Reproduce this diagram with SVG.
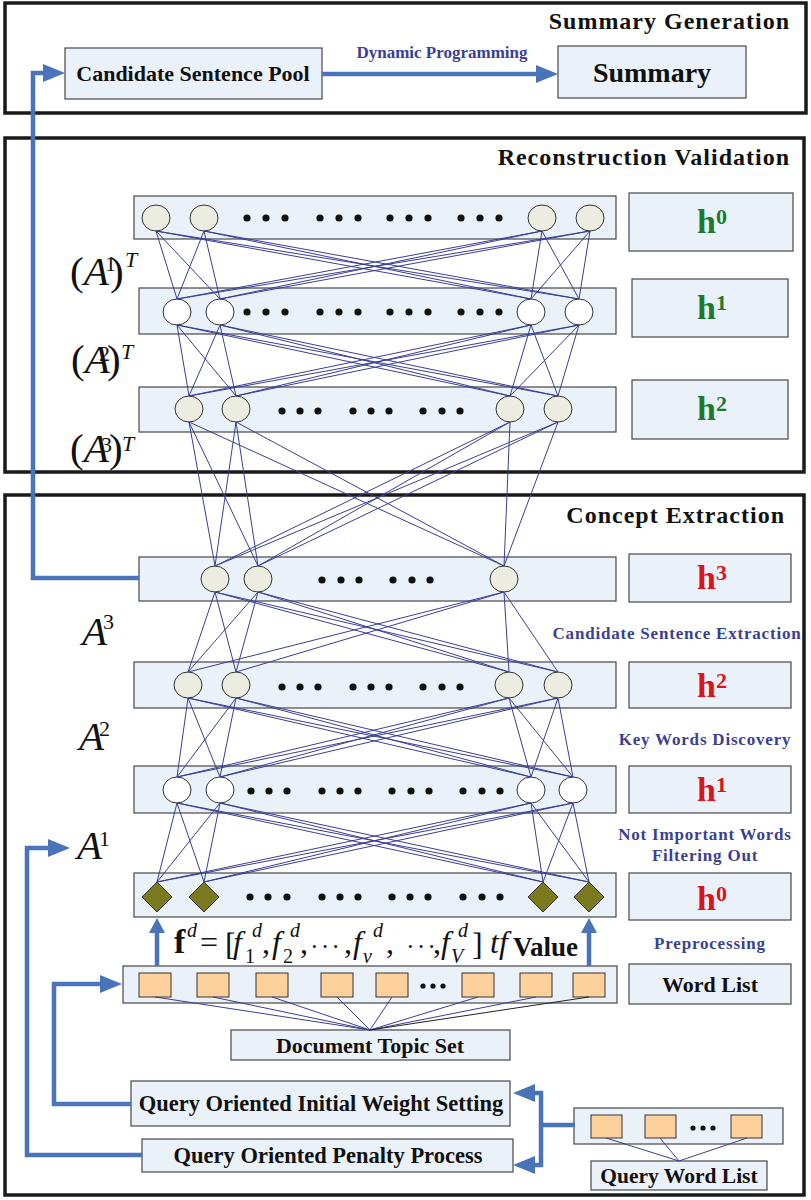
<svg xmlns="http://www.w3.org/2000/svg" width="811" height="1200" viewBox="0 0 811 1200">
<defs>
<style>
.sec{fill:none;stroke:#1a1a1a;stroke-width:3.5}
.lay{fill:#ebf1f9;stroke:#474747;stroke-width:1.2}
.nd{fill:#ecede0;stroke:#333;stroke-width:1}
.nw{fill:#fff;stroke:#333;stroke-width:1}
.dm{fill:#7a7a1e;stroke:#333;stroke-width:1}
.sq{fill:#fdd09c;stroke:#333;stroke-width:1}
.dot{fill:#111}
.w{stroke:#3a3e94;stroke-width:1;fill:none}
.thick{stroke:#4a74ba;stroke-width:4.5;fill:none}
text{font-family:"Liberation Serif","Times New Roman",serif;fill:#111}
.title{font-size:24px;font-weight:bold;letter-spacing:1px;text-anchor:end}
.lbl{font-weight:bold;text-anchor:middle}
.blue{fill:#3a3f94;font-size:17px;font-weight:bold;letter-spacing:0.8px;text-anchor:middle}
.hl{font-size:34px;font-weight:bold;text-anchor:middle}
.hg{fill:#1d7a2c}
.hr{fill:#d9141b}
.it{font-style:italic}
.bg{font-size:41px}
.sp{font-size:22px}
.fm{font-size:32px}
.fs{font-size:20px}
.el{font-size:26px;letter-spacing:2px}
</style>
<marker id="ah" markerUnits="userSpaceOnUse" markerWidth="22" markerHeight="18" refX="8" refY="9" orient="auto-start-reverse"><path d="M0,0 L22,9 L0,18 z" fill="#4a74ba"/></marker>
<marker id="ahs" markerUnits="userSpaceOnUse" markerWidth="16" markerHeight="16" refX="4" refY="8" orient="auto"><path d="M0,0 L15,8 L0,16 z" fill="#4a74ba"/></marker>
</defs>
<rect width="811" height="1200" fill="#fff"/>

<!-- sections -->
<g id="sec-summary">
<rect class="sec" x="5" y="3" width="801" height="110"/>
<text class="title" x="790" y="29">Summary Generation</text>
</g>
<g id="sec-recon">
<rect class="sec" x="5" y="138" width="799" height="334"/>
<text class="title" x="790" y="165">Reconstruction Validation</text>
</g>
<g id="sec-concept">
<rect class="sec" x="5" y="495" width="799" height="700"/>
<text class="title" x="785" y="523">Concept Extraction</text>
</g>

<!-- summary nodes -->
<g id="candidate-pool">
<rect class="lay" x="65" y="48" width="257" height="51"/>
<text class="lbl" x="193" y="81" font-size="22">Candidate Sentence Pool</text>
</g>
<g id="summary">
<rect class="lay" x="558" y="46" width="188" height="52"/>
<text class="lbl" x="652" y="82" font-size="28">Summary</text>
</g>

<!-- recon layers -->
<g id="r-h0">
<rect class="lay" x="134" y="196" width="482" height="43"/>
<ellipse class="nd" cx="156" cy="218" rx="14" ry="13"/><ellipse class="nd" cx="204" cy="218" rx="14" ry="13"/>
<ellipse class="nd" cx="542" cy="218" rx="14" ry="13"/><ellipse class="nd" cx="590" cy="218" rx="14" ry="13"/>
<g class="dot"><circle cx="247" cy="218" r="3.6"/><circle cx="266" cy="218" r="3.6"/><circle cx="285" cy="218" r="3.6"/><circle cx="320" cy="218" r="3.6"/><circle cx="339" cy="218" r="3.6"/><circle cx="358" cy="218" r="3.6"/><circle cx="390" cy="218" r="3.6"/><circle cx="409" cy="218" r="3.6"/><circle cx="428" cy="218" r="3.6"/><circle cx="461" cy="218" r="3.6"/><circle cx="480" cy="218" r="3.6"/><circle cx="499" cy="218" r="3.6"/></g>
</g>
<g id="r-h1">
<rect class="lay" x="139" y="288" width="477" height="46"/>
<ellipse class="nw" cx="177" cy="312" rx="14" ry="13"/><ellipse class="nw" cx="220" cy="312" rx="14" ry="13"/>
<ellipse class="nw" cx="531" cy="312" rx="14" ry="13"/><ellipse class="nw" cx="579" cy="312" rx="14" ry="13"/>
<g class="dot"><circle cx="247" cy="312" r="3.6"/><circle cx="266" cy="312" r="3.6"/><circle cx="285" cy="312" r="3.6"/><circle cx="320" cy="312" r="3.6"/><circle cx="339" cy="312" r="3.6"/><circle cx="358" cy="312" r="3.6"/><circle cx="390" cy="312" r="3.6"/><circle cx="409" cy="312" r="3.6"/><circle cx="428" cy="312" r="3.6"/><circle cx="461" cy="312" r="3.6"/><circle cx="480" cy="312" r="3.6"/><circle cx="499" cy="312" r="3.6"/></g>
</g>
<g id="r-h2">
<rect class="lay" x="139" y="387" width="477" height="45"/>
<ellipse class="nd" cx="189" cy="409" rx="14" ry="13"/><ellipse class="nd" cx="236" cy="409" rx="14" ry="13"/>
<ellipse class="nd" cx="510" cy="409" rx="14" ry="13"/><ellipse class="nd" cx="558" cy="409" rx="14" ry="13"/>
<g class="dot"><circle cx="282" cy="411" r="3.6"/><circle cx="300" cy="411" r="3.6"/><circle cx="318" cy="411" r="3.6"/><circle cx="353" cy="411" r="3.6"/><circle cx="371" cy="411" r="3.6"/><circle cx="389" cy="411" r="3.6"/><circle cx="423" cy="411" r="3.6"/><circle cx="442" cy="411" r="3.6"/><circle cx="460" cy="411" r="3.6"/></g>
</g>

<!-- recon labels -->
<g id="r-lab-h0"><rect class="lay" x="629" y="193" width="164" height="58"/><text class="hl hg" x="712" y="233">h<tspan font-size="22" dy="-9">0</tspan></text></g>
<g id="r-lab-h1"><rect class="lay" x="632" y="279" width="156" height="58"/><text class="hl hg" x="712" y="319">h<tspan font-size="22" dy="-9">1</tspan></text></g>
<g id="r-lab-h2"><rect class="lay" x="632" y="380" width="156" height="59"/><text class="hl hg" x="712" y="420">h<tspan font-size="22" dy="-9">2</tspan></text></g>

<g id="r-A1"><text class="bg" x="70" y="285">(<tspan class="it">A</tspan></text><text class="sp" x="105" y="271">1</text><text class="bg" x="110" y="285">)</text><text class="sp it" x="125" y="267">T</text></g>
<g id="r-A2"><text class="bg" x="71" y="373">(<tspan class="it">A</tspan></text><text class="sp" x="99" y="361">2</text><text class="bg" x="107" y="373">)</text><text class="sp it" x="121" y="359">T</text></g>
<g id="r-A3"><text class="bg" x="70" y="462">(<tspan class="it">A</tspan></text><text class="sp" x="101" y="452">3</text><text class="bg" x="109" y="462">)</text><text class="sp it" x="122" y="451">T</text></g>

<!-- concept layers -->
<g id="c-h3">
<rect class="lay" x="139" y="557" width="477" height="44"/>
<ellipse class="nd" cx="215" cy="579" rx="14" ry="13"/><ellipse class="nd" cx="258" cy="579" rx="14" ry="13"/><ellipse class="nd" cx="504" cy="579" rx="14" ry="13"/>
<g class="dot"><circle cx="322" cy="580" r="3.6"/><circle cx="341" cy="580" r="3.6"/><circle cx="359" cy="580" r="3.6"/><circle cx="393" cy="580" r="3.6"/><circle cx="412" cy="580" r="3.6"/><circle cx="430" cy="580" r="3.6"/></g>
</g>
<g id="c-h2">
<rect class="lay" x="134" y="662" width="482" height="46"/>
<ellipse class="nd" cx="188" cy="685" rx="14" ry="13"/><ellipse class="nd" cx="236" cy="685" rx="14" ry="13"/>
<ellipse class="nd" cx="509" cy="685" rx="14" ry="13"/><ellipse class="nd" cx="558" cy="685" rx="14" ry="13"/>
<g class="dot"><circle cx="282" cy="687" r="3.6"/><circle cx="300" cy="687" r="3.6"/><circle cx="318" cy="687" r="3.6"/><circle cx="353" cy="687" r="3.6"/><circle cx="371" cy="687" r="3.6"/><circle cx="389" cy="687" r="3.6"/><circle cx="423" cy="687" r="3.6"/><circle cx="442" cy="687" r="3.6"/><circle cx="460" cy="687" r="3.6"/></g>
</g>
<g id="c-h1">
<rect class="lay" x="134" y="766" width="482" height="47"/>
<ellipse class="nw" cx="177" cy="790" rx="14" ry="13"/><ellipse class="nw" cx="220" cy="790" rx="14" ry="13"/>
<ellipse class="nw" cx="531" cy="790" rx="14" ry="13"/><ellipse class="nw" cx="573" cy="790" rx="14" ry="13"/>
<g class="dot"><circle cx="251" cy="791" r="3.6"/><circle cx="269" cy="791" r="3.6"/><circle cx="287" cy="791" r="3.6"/><circle cx="322" cy="791" r="3.6"/><circle cx="340" cy="791" r="3.6"/><circle cx="358" cy="791" r="3.6"/><circle cx="392" cy="791" r="3.6"/><circle cx="411" cy="791" r="3.6"/><circle cx="429" cy="791" r="3.6"/><circle cx="463" cy="791" r="3.6"/><circle cx="482" cy="791" r="3.6"/><circle cx="500" cy="791" r="3.6"/></g>
</g>
<g id="c-h0">
<rect class="lay" x="134" y="873" width="482" height="44"/>
<path class="dm" d="M157 882 L172 897 L157 912 L142 897 Z"/><path class="dm" d="M204 882 L219 897 L204 912 L189 897 Z"/>
<path class="dm" d="M543 882 L558 897 L543 912 L528 897 Z"/><path class="dm" d="M589 882 L604 897 L589 912 L574 897 Z"/>
<g class="dot"><circle cx="250" cy="897" r="3.6"/><circle cx="268" cy="897" r="3.6"/><circle cx="287" cy="897" r="3.6"/><circle cx="322" cy="897" r="3.6"/><circle cx="340" cy="897" r="3.6"/><circle cx="358" cy="897" r="3.6"/><circle cx="392" cy="897" r="3.6"/><circle cx="410" cy="897" r="3.6"/><circle cx="428" cy="897" r="3.6"/><circle cx="463" cy="897" r="3.6"/><circle cx="482" cy="897" r="3.6"/><circle cx="500" cy="897" r="3.6"/></g>
</g>
<g id="word-list-row">
<rect class="lay" x="123" y="966" width="494" height="37"/>
<rect class="sq" x="139" y="973" width="32" height="24"/><rect class="sq" x="197" y="973" width="32" height="24"/><rect class="sq" x="256" y="973" width="32" height="24"/><rect class="sq" x="321" y="973" width="32" height="24"/><rect class="sq" x="376" y="973" width="32" height="24"/><rect class="sq" x="462" y="973" width="32" height="24"/><rect class="sq" x="520" y="973" width="32" height="24"/><rect class="sq" x="573" y="973" width="32" height="24"/>
<g class="dot"><circle cx="423" cy="986" r="2.6"/><circle cx="433" cy="986" r="2.6"/><circle cx="443" cy="986" r="2.6"/></g>
</g>

<!-- concept labels -->
<g id="c-lab-h3"><rect class="lay" x="629" y="554" width="162" height="48"/><text class="hl hr" x="712" y="589">h<tspan font-size="22" dy="-9">3</tspan></text></g>
<g id="c-lab-h2"><rect class="lay" x="629" y="662" width="162" height="46"/><text class="hl hr" x="712" y="697">h<tspan font-size="22" dy="-9">2</tspan></text></g>
<g id="c-lab-h1"><rect class="lay" x="629" y="766" width="162" height="47"/><text class="hl hr" x="712" y="801">h<tspan font-size="22" dy="-9">1</tspan></text></g>
<g id="c-lab-h0"><rect class="lay" x="629" y="873" width="162" height="47"/><text class="hl hr" x="712" y="910">h<tspan font-size="22" dy="-9">0</tspan></text></g>
<g id="c-lab-wordlist"><rect class="lay" x="629" y="964" width="162" height="40"/><text class="lbl" x="710" y="992" font-size="22">Word List</text></g>

<text class="blue" x="677" y="639">Candidate Sentence Extraction</text>
<text class="blue" x="705" y="745">Key Words Discovery</text>
<text class="blue" x="705" y="840">Not Important Words</text>
<text class="blue" x="705" y="861">Filtering Out</text>
<text class="blue" x="710" y="949">Preprocessing</text>

<g id="c-A3"><text class="bg it" x="82" y="645">A</text><text class="sp" x="103" y="629">3</text></g>
<g id="c-A2"><text class="bg it" x="79" y="750">A</text><text class="sp" x="99" y="736">2</text></g>
<g id="c-A1"><text class="bg it" x="77" y="859">A</text><text class="sp" x="99" y="846">1</text></g>

<!-- formula -->
<g id="formula">
<text x="174" y="953" font-size="34" font-weight="bold">f</text>
<text class="fs it" x="187" y="937">d</text>
<text class="fm" x="200" y="953">=</text>
<text class="fm" x="225" y="955">[</text>
<text class="fm it" x="233" y="953">f</text><text class="fs" x="245" y="963">1</text><text class="fs it" x="252" y="937">d</text><text class="fm" x="262" y="953">,</text>
<text class="fm it" x="272" y="953">f</text><text class="fs" x="283" y="963">2</text><text class="fs it" x="290" y="937">d</text><text class="fm" x="300" y="953">,</text>
<text class="el" x="310" y="955">···</text>
<text class="fm" x="344" y="953">,</text>
<text class="fm it" x="353" y="953">f</text><text class="fs it" x="363" y="963">v</text><text class="fs it" x="373" y="937">d</text><text class="fm" x="386" y="953">,</text>
<text class="el" x="406" y="955">···</text>
<text class="fm" x="433" y="953">,</text>
<text class="fm it" x="441" y="953">f</text><text class="fs it" x="451" y="963">V</text><text class="fs it" x="458" y="937">d</text>
<text class="fm" x="472" y="955">]</text>
<text class="fm it" x="490" y="953">tf</text>
<text x="513" y="956" font-size="27" font-weight="bold">Value</text>
</g>

<!-- bottom nodes -->
<g id="doc-topic-set"><rect class="lay" x="231" y="1030" width="279" height="30"/><text class="lbl" x="370" y="1053" font-size="22">Document Topic Set</text></g>
<g id="init-weight"><rect class="lay" x="131" y="1081" width="379" height="45"/><text class="lbl" x="321" y="1111" font-size="22.5">Query Oriented Initial Weight Setting</text></g>
<g id="penalty"><rect class="lay" x="142" y="1139" width="371" height="33"/><text class="lbl" x="328" y="1163" font-size="22.5">Query Oriented Penalty Process</text></g>
<g id="query-row">
<rect class="lay" x="574" y="1108" width="209" height="36"/>
<rect class="sq" x="591" y="1115" width="31" height="23"/><rect class="sq" x="645" y="1115" width="31" height="23"/><rect class="sq" x="731" y="1115" width="31" height="23"/>
<g class="dot"><circle cx="693" cy="1128" r="2.6"/><circle cx="703" cy="1128" r="2.6"/><circle cx="713" cy="1128" r="2.6"/></g>
</g>
<g id="query-word-list"><rect class="lay" x="591" y="1161" width="176" height="29"/><text class="lbl" x="679" y="1183" font-size="21.5">Query Word List</text></g>

<!-- connectors -->
<g id="connectors">
<path class="w" d="M156 231L177 299M156 231L220 299M156 231L531 299M156 231L579 299M204 231L177 299M204 231L220 299M204 231L531 299M204 231L579 299M542 231L177 299M542 231L220 299M542 231L531 299M542 231L579 299M590 231L177 299M590 231L220 299M590 231L531 299M590 231L579 299"/>
<path class="w" d="M177 325L189 396M177 325L236 396M177 325L510 396M177 325L558 396M220 325L189 396M220 325L236 396M220 325L510 396M220 325L558 396M531 325L189 396M531 325L236 396M531 325L510 396M531 325L558 396M579 325L189 396M579 325L236 396M579 325L510 396M579 325L558 396"/>
<path class="w" d="M189 422L215 566M189 422L258 566M189 422L504 566M236 422L215 566M236 422L258 566M236 422L504 566M510 422L215 566M510 422L258 566M510 422L504 566M558 422L215 566M558 422L258 566M558 422L504 566"/>
<path class="w" d="M215 592L188 672M215 592L236 672M215 592L509 672M215 592L558 672M258 592L188 672M258 592L236 672M258 592L509 672M258 592L558 672M504 592L188 672M504 592L236 672M504 592L509 672M504 592L558 672"/>
<path class="w" d="M188 698L177 777M188 698L220 777M188 698L531 777M188 698L573 777M236 698L177 777M236 698L220 777M236 698L531 777M236 698L573 777M509 698L177 777M509 698L220 777M509 698L531 777M509 698L573 777M558 698L177 777M558 698L220 777M558 698L531 777M558 698L573 777"/>
<path class="w" d="M177 803L157 882M177 803L204 882M177 803L543 882M177 803L589 882M220 803L157 882M220 803L204 882M220 803L543 882M220 803L589 882M531 803L157 882M531 803L204 882M531 803L543 882M531 803L589 882M573 803L157 882M573 803L204 882M573 803L543 882M573 803L589 882"/>
<path class="w" d="M155 997L370 1030M213 997L370 1030M272 997L370 1030M337 997L370 1030M392 997L370 1030M478 997L370 1030M536 997L370 1030"/>
<path d="M589 997L370 1030" stroke="#222" stroke-width="1" fill="none"/>
<path class="w" d="M606 1138L679 1161M660 1138L679 1161M747 1138L679 1161"/>
<path class="thick" d="M322 74 H544" marker-end="url(#ah)"/>
<path class="thick" d="M139 578 H33 V73 H51" marker-end="url(#ah)"/>
<path class="thick" d="M131 1104 H54 V984 H108" marker-end="url(#ah)"/>
<path class="thick" d="M142 1155 H27 V848 H56" marker-end="url(#ah)"/>
<path class="thick" d="M157 966 V929" marker-end="url(#ahs)"/>
<path class="thick" d="M589 966 V929" marker-end="url(#ahs)"/>
<path class="thick" d="M575 1125 H541"/>
<path class="thick" d="M527 1093 H541 V1165 H527" marker-start="url(#ah)" marker-end="url(#ah)"/>
<text x="442" y="58" font-size="17" font-weight="bold" text-anchor="middle" style="fill:#3a3f94">Dynamic Programming</text>
</g>
</svg>
